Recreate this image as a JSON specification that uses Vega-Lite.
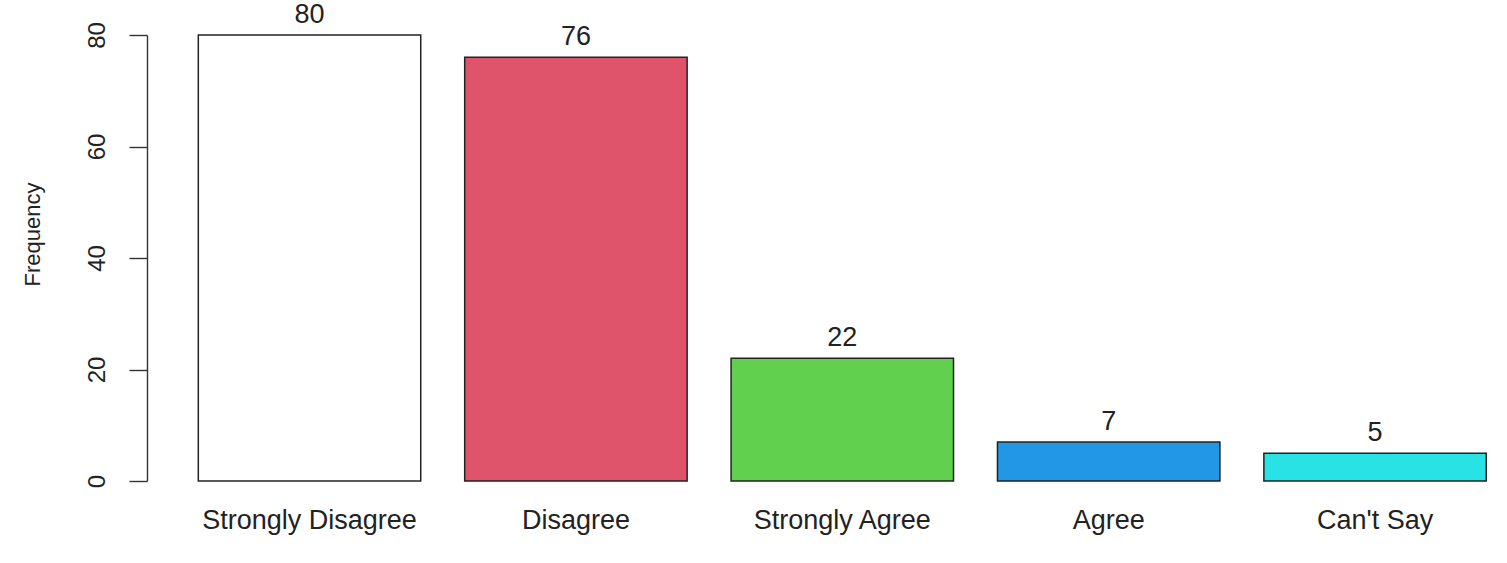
{
  "$schema": "https://vega.github.io/schema/vega-lite/v6.json",
  "width": 1360,
  "height": 446,
  "autosize": {"type": "none"},
  "padding": {"left": 147, "top": 35, "right": 0, "bottom": 82},
  "background": "white",
  "config": {
    "view": {"stroke": null},
    "font": "Liberation Sans",
    "axis": {"grid": false, "labelColor": "#222", "titleColor": "#222", "domainColor": "#333", "tickColor": "#333"}
  },
  "data": {
    "values": [
      {"response": "Strongly Disagree", "count": 80},
      {"response": "Disagree", "count": 76},
      {"response": "Strongly Agree", "count": 22},
      {"response": "Agree", "count": 7},
      {"response": "Can't Say", "count": 5}
    ]
  },
  "encoding": {
    "x": {
      "field": "response",
      "type": "nominal",
      "sort": null,
      "scale": {"range": [0, 1390.6], "paddingInner": 0.165, "paddingOuter": 0.1926},
      "axis": {
        "title": null,
        "domain": false,
        "ticks": false,
        "tickSize": 0,
        "labelAngle": 0,
        "labelFontSize": 27,
        "labelBaseline": "middle",
        "labelPadding": 39,
        "labelLimit": 0
      }
    },
    "y": {
      "field": "count",
      "type": "quantitative",
      "scale": {"domain": [0, 80], "nice": false, "zero": true},
      "axis": {
        "values": [0, 20, 40, 60, 80],
        "domainWidth": 1.4,
        "tickWidth": 1.4,
        "tickSize": 18,
        "labelAngle": -90,
        "labelAlign": "center",
        "labelBaseline": "alphabetic",
        "labelPadding": 25,
        "labelFontSize": 24,
        "title": "Frequency",
        "titleFontSize": 22,
        "titleFontWeight": "normal",
        "titleAngle": -90,
        "titleAlign": "center",
        "titleBaseline": "alphabetic",
        "titleX": -108,
        "titleY": 199
      }
    }
  },
  "layer": [
    {
      "mark": {"type": "bar", "stroke": "#222", "strokeWidth": 1.5},
      "encoding": {
        "color": {
          "field": "response",
          "type": "nominal",
          "scale": {
            "domain": ["Strongly Disagree", "Disagree", "Strongly Agree", "Agree", "Can't Say"],
            "range": ["#FFFFFF", "#DF536B", "#61D04F", "#2297E6", "#28E2E5"]
          },
          "legend": null
        }
      }
    },
    {
      "mark": {"type": "text", "baseline": "alphabetic", "dy": -12, "fontSize": 27, "color": "#222"},
      "encoding": {"text": {"field": "count", "type": "quantitative"}}
    }
  ]
}
